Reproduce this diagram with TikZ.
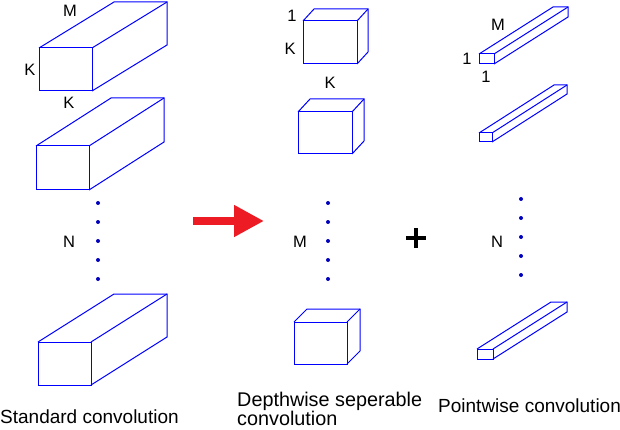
\documentclass[tikz,border=0pt]{standalone}
\usepackage{fontspec}
\setmainfont{Liberation Sans}
\usetikzlibrary{arrows.meta}
\newcommand\convbox[6]{%
\draw [kernel] (#1,#2) rectangle (#3,#4);
\draw [kernel] (#1,#2) -- ++(#5,#6) -- ({#3+#5},{#2+#6}) -- ({#3+#5},{#4+#6}) -- (#3,#4);
\draw [kernel] (#3,#2) -- ++(#5,#6);}
\begin{document}
\begin{tikzpicture}[x=1pt,y=-1pt,
  kernel/.style={draw=blue,line width=1pt},
  dim/.style={font=\fontsize{16.5}{16}\selectfont,inner sep=0pt},
  caption/.style={font=\fontsize{19}{16}\selectfont,inner sep=0pt,align=left},
  dotc/.style={fill=blue!75!black}]
\useasboundingbox (0,0) rectangle (620,430);
% standard convolution
\convbox{39}{48}{92}{91}{75}{-46}
\convbox{36}{146}{89}{190}{75}{-48}
\convbox{38}{342}{91}{385}{76}{-48}
\node(stdM) [dim] at (70,11) {M};
\node(stdK) [dim] at (30,70) {K};
\node(stdKb) [dim] at (69,103) {K};
\node(stdN) [dim] at (69,242) {N};
\foreach \y in {203,222,241,260,279} \fill[dotc] (98,\y) circle (2pt);
\node(stdcap) [caption,anchor=base west] at (0,423) {Standard convolution};
% depthwise
\convbox{303}{21}{357}{64}{11}{-12}
\convbox{298}{112}{352}{154}{12}{-13}
\convbox{294}{322}{347}{364}{13}{-13}
\node(dwone) [dim] at (292,15.5) {1};
\node(dwK) [dim] at (290,49) {K};
\node(dwKb) [dim] at (330,83) {K};
\node(dwM) [dim] at (300,242) {M};
\foreach \y in {203,222,241,260,279} \fill[dotc] (328,\y) circle (2pt);
\node(dwcap) [caption,font=\fontsize{19.8}{15.8}\selectfont,anchor=base west] at (237,425.7) {Depthwise seperable\\convolution};
% pointwise
\convbox{479}{54}{494}{64}{74}{-47}
\convbox{479}{133}{492}{142}{75}{-48}
\convbox{477}{349}{493}{359}{74}{-47}
\node(pwM) [dim] at (498,25) {M};
\node(pwone) [dim] at (467,59) {1};
\node(pwoneb) [dim] at (486,77) {1};
\node(pwN) [dim] at (497,242) {N};
\foreach \y in {199,218,237,256,275} \fill[dotc] (521,\y) circle (2pt);
\node(pwcap) [caption,anchor=base west] at (438,412) {Pointwise convolution};
% arrow and plus
\coordinate(from) at (193,221);
\coordinate(to) at (264,221);
\draw [-{Triangle[length=30pt,width=30pt]},line width=8pt,color={rgb,255:red,237;green,28;blue,36}] (from) -- (to);
\coordinate(plus) at (416,238);
\draw [line width=4.5pt] ([xshift=-10pt]plus) -- ([xshift=10pt]plus);
\draw [line width=4.5pt] ([yshift=-10pt]plus) -- ([yshift=10pt]plus);
\end{tikzpicture}
\end{document}
